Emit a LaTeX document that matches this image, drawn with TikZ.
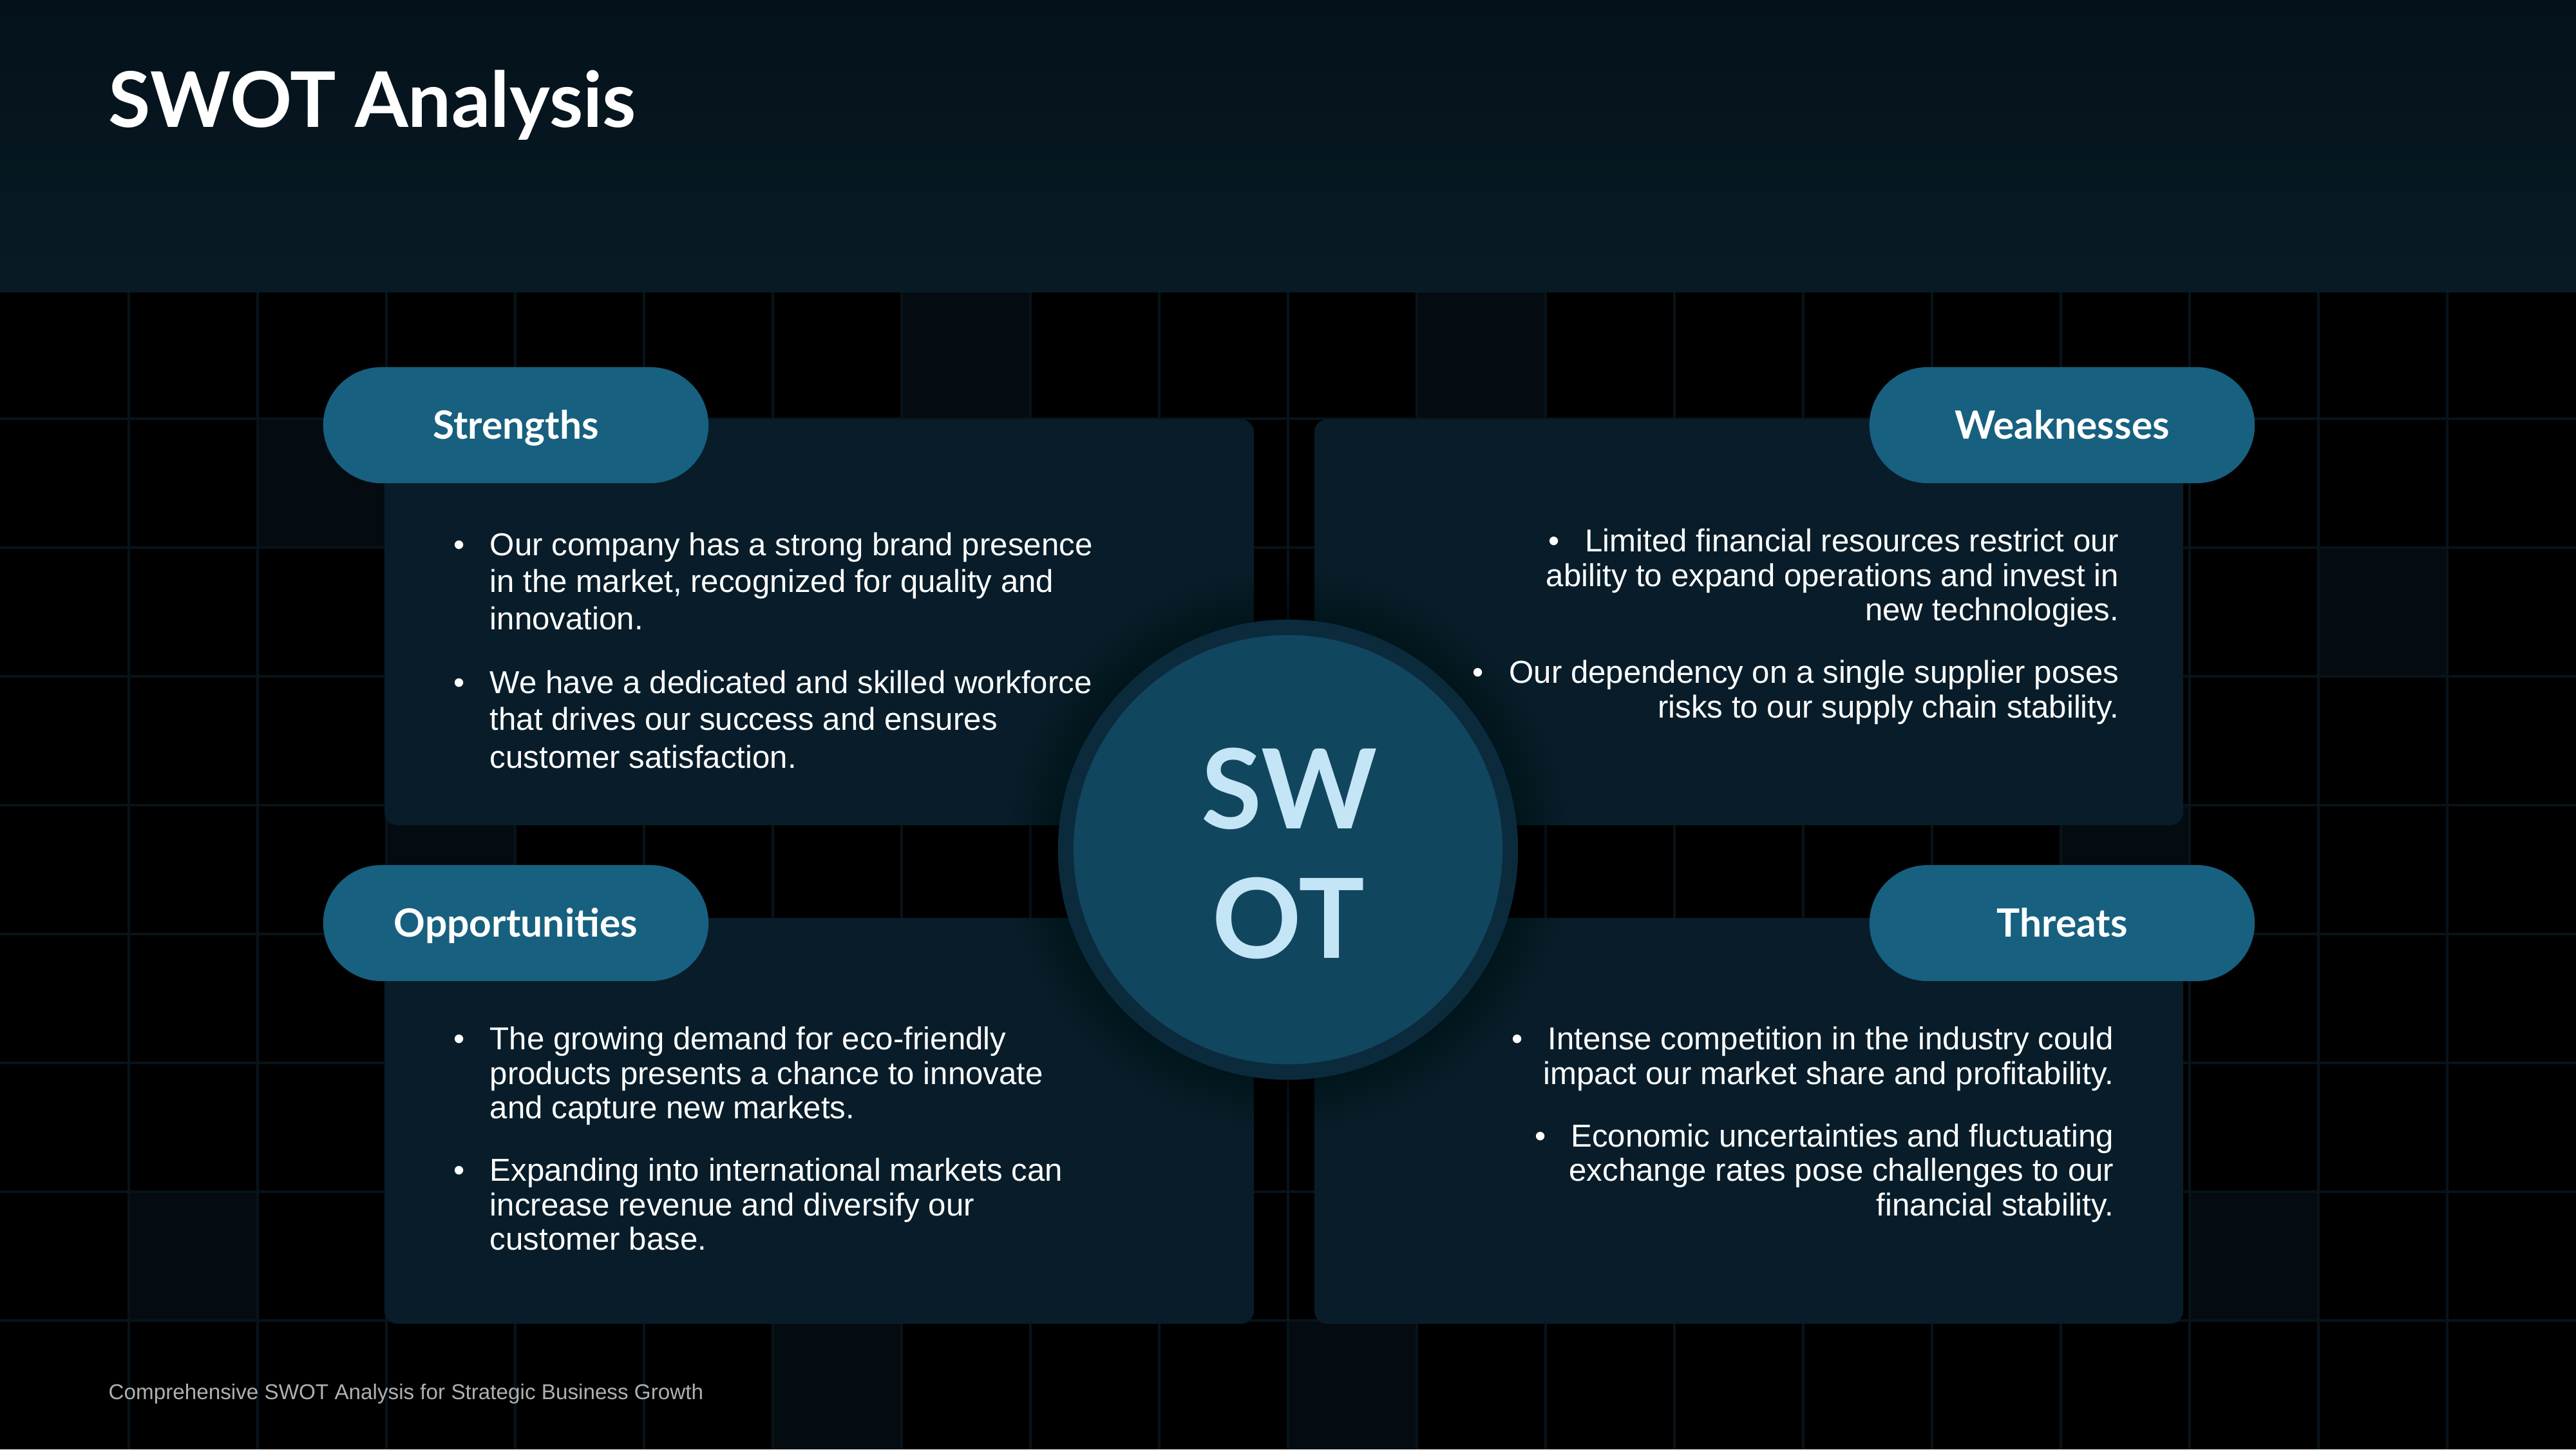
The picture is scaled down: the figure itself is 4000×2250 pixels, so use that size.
\documentclass[tikz,border=0pt]{standalone}
\usepackage{fontspec}
\setmainfont{Liberation Sans}
\newfontfamily\headfont{Lato}
\usetikzlibrary{shapes.misc}
\definecolor{hdrtop}{HTML}{04111A}
\definecolor{hdrbot}{HTML}{081B25}
\definecolor{gridln}{HTML}{08131A}
\definecolor{cellhi}{HTML}{040C11}
\definecolor{cardbg}{HTML}{081D29}
\definecolor{pillbg}{HTML}{17607F}
\definecolor{ringc}{HTML}{0B2B3D}
\definecolor{discc}{HTML}{11465F}
\definecolor{swotc}{HTML}{C3E5F5}
\definecolor{footc}{HTML}{B0B0B0}
\begin{document}
\begin{tikzpicture}[x=0.01cm,y=-0.01cm,
  card/.style={fill=cardbg, rounded corners=0.2cm},
  pill/.style={rounded rectangle, fill=pillbg, minimum width=5.98cm, minimum height=1.80cm,
    inner sep=0pt, text=white, font=\headfont\bfseries\fontsize{17.2pt}{20pt}\selectfont,
    text height=0.43cm, text depth=0cm},
  body/.style={inner sep=0pt, text=white, font=\fontsize{14pt}{16pt}\selectfont},
  bul/.style={body, anchor=base},
  gridline/.style={draw=gridln, line width=0.045cm},
]
\useasboundingbox (0,0) rectangle (4000,2250);
% background
\fill[black] (0,0) rectangle (4000,2250);
\foreach \cx/\cy in {1400/450, 2200/450, 400/650, 3600/850, 3200/1250, 600/1250, 200/1850, 3400/1850, 1200/2050, 2000/2050}
  \fill[cellhi] (\cx,\cy) rectangle ++(200,200);
\foreach \x in {200,400,...,3800}
  \draw[gridline] (\x,453) -- (\x,2250);
\foreach \y in {650,850,...,2050}
  \draw[gridline] (0,\y) -- (4000,\y);
% header
\shade[top color=hdrtop, bottom color=hdrbot] (0,0) rectangle (4000,453);
\node[anchor=base west, inner sep=0pt, text=white,
  font=\headfont\bfseries\fontsize{33.9pt}{40pt}\selectfont] (title) at (168,197) {SWOT Analysis};
% cards
\path[card] (597,651) rectangle (1947,1281);
\path[card] (2041,651) rectangle (3390,1281);
\path[card] (597,1425) rectangle (1947,2055);
\path[card] (2041,1425) rectangle (3390,2055);
% pills
\node[pill] (pS) at (801,660) {Strengths};
\node[pill] (pW) at (3202,660) {Weaknesses};
\node[pill] (pO) at (801,1433) {Opportunities};
\node[pill] (pT) at (3202,1433) {Threats};
% circle shadow and circle
\foreach \r in {0,...,7}
  \fill[black, opacity=0.03] (2000,1319) circle[radius=3.62cm+\r*0.1cm];
\node[circle, fill=discc, draw=ringc, line width=0.24cm, minimum size=6.90cm, inner sep=0pt] (core) at (2000,1319) {};
\node[anchor=base, inner sep=0pt, text=swotc,
  font=\headfont\bfseries\fontsize{48.8pt}{56pt}\selectfont] (sw) at (2002,1286) {SW};
\node[anchor=base, inner sep=0pt, text=swotc,
  font=\headfont\bfseries\fontsize{48.8pt}{56pt}\selectfont] (ot) at (2001,1487) {OT};
% Strengths
\foreach \t/\y [count=\i] in {{Our company has a strong brand presence}/862,
  {in the market, recognized for quality and}/919, {innovation.}/977,
  {We have a dedicated and skilled workforce}/1076,
  {that drives our success and ensures}/1133, {customer satisfaction.}/1192}
  \node[body, anchor=base west] (s\i) at (760,\y) {\t};
\node[bul] (sb1) at ([xshift=-0.47cm]s1.base west) {•};
\node[bul] (sb2) at ([xshift=-0.47cm]s4.base west) {•};
% Weaknesses
\foreach \t/\y [count=\i] in {{Limited financial resources restrict our}/856,
  {ability to expand operations and invest in}/910, {new technologies.}/963,
  {Our dependency on a single supplier poses}/1060,
  {risks to our supply chain stability.}/1114}
  \node[body, anchor=base east] (w\i) at (3291,\y) {\t};
\node[bul] (wb1) at ([xshift=-0.47cm]w1.base west) {•};
\node[bul] (wb2) at ([xshift=-0.47cm]w4.base west) {•};
% Opportunities
\foreach \t/\y [count=\i] in {{The growing demand for eco-friendly}/1629,
  {products presents a chance to innovate}/1683, {and capture new markets.}/1736,
  {Expanding into international markets can}/1833,
  {increase revenue and diversify our}/1887, {customer base.}/1940}
  \node[body, anchor=base west] (o\i) at (760,\y) {\t};
\node[bul] (ob1) at ([xshift=-0.47cm]o1.base west) {•};
\node[bul] (ob2) at ([xshift=-0.47cm]o4.base west) {•};
% Threats
\foreach \t/\y [count=\i] in {{Intense competition in the industry could}/1629,
  {impact our market share and profitability.}/1683,
  {Economic uncertainties and fluctuating}/1780,
  {exchange rates pose challenges to our}/1833, {financial stability.}/1887}
  \node[body, anchor=base east] (t\i) at (3283,\y) {\t};
\node[bul] (tb1) at ([xshift=-0.47cm]t1.base west) {•};
\node[bul] (tb2) at ([xshift=-0.47cm]t3.base west) {•};
% footer
\node[anchor=base west, inner sep=0pt, text=footc, font=\fontsize{9.45pt}{11pt}\selectfont]
  (foot) at (168,2172) {Comprehensive SWOT Analysis for Strategic Business Growth};
\end{tikzpicture}
\end{document}
